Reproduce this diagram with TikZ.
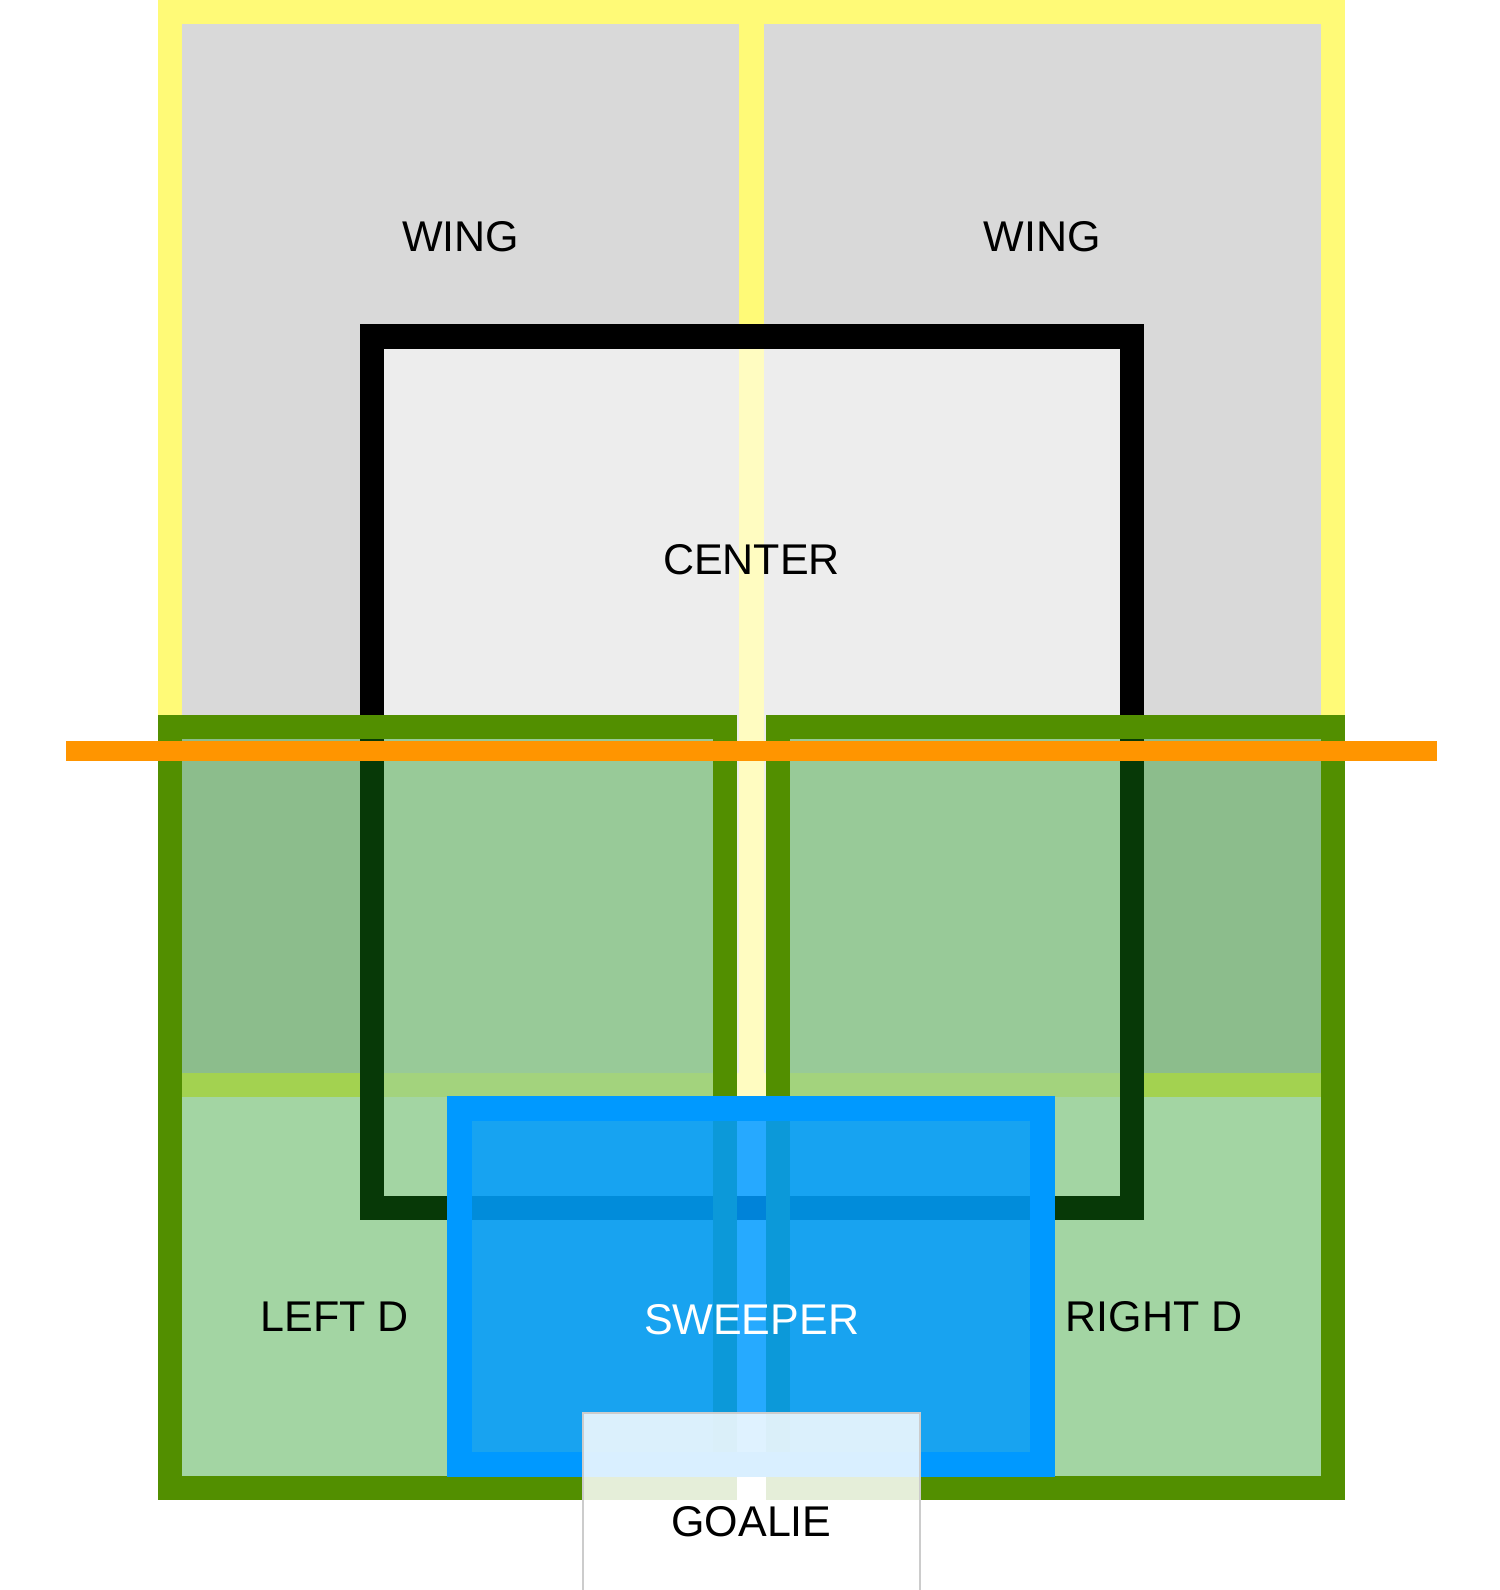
\documentclass[tikz,border=0pt]{standalone}
\usepackage{fontspec}
\setmainfont{Liberation Sans}
\definecolor{wingfill}{HTML}{D9D9D9}
\definecolor{wingline}{HTML}{FFFA77}
\definecolor{dline}{HTML}{528F00}
\definecolor{dfill}{RGB}{19,147,19}
\definecolor{orangeline}{HTML}{FF9500}
\definecolor{sweep}{RGB}{0,155,255}
\definecolor{sweepline}{HTML}{0099FF}
\tikzset{
  wingbox/.style={fill=wingfill,draw=wingline,line width=24.4pt},
  centerbox/.style={fill=white,fill opacity=0.55,draw=black,draw opacity=1,line width=24.4pt},
  dbox/.style={fill=dfill,fill opacity=0.39,draw=dline,draw opacity=1,line width=24.4pt},
  sweepbox/.style={fill=sweep,fill opacity=0.85,draw=sweepline,draw opacity=1,line width=24.4pt},
  goaliebox/.style={fill=white,fill opacity=0.85,draw=black!20,draw opacity=1,line width=2pt},
  lbl/.style={font=\fontsize{43}{50}\selectfont,text=black,inner sep=0pt}
}
\begin{document}
\begin{tikzpicture}[x=1.017pt,y=-1.017pt]
\useasboundingbox (0,0) rectangle (1475,1563.5);
\draw[wingbox] (167,12) rectangle (739,1067);
\draw[wingbox] (739,12) rectangle (1311,1067);
\draw[centerbox] (366,331) rectangle (1113,1188);
\draw[dbox] (167,715) rectangle (713,1463);
\draw[dbox] (765,715) rectangle (1311,1463);
\draw[orangeline,line width=20pt] (65,738) -- (1413,738);
\draw[sweepbox] (452,1090) rectangle (1025,1440);
\draw[goaliebox] (573,1389) rectangle (905,1565);
\node[lbl] (wl) at (453,233) {WING};
\node[lbl] (wr) at (1025,233) {WING};
\node[lbl] (c) at (739,550) {CENTER};
\node[lbl] (ld) at (329,1295) {LEFT D};
\node[lbl] (rd) at (1135,1295) {RIGHT D};
\node[lbl,text=white] (sw) at (739,1298) {SWEEPER};
\node[lbl] (g) at (739,1496) {GOALIE};
\end{tikzpicture}
\end{document}
